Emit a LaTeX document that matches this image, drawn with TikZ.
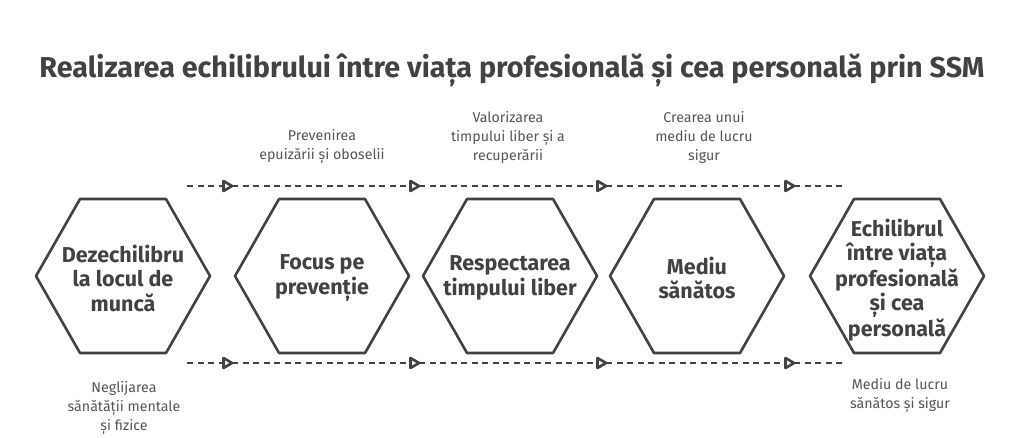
\documentclass[tikz,border=0pt]{standalone}
\usepackage{fontspec}
\setmainfont{Fira Sans}
\usetikzlibrary{calc}
\definecolor{ink}{HTML}{424242}
\definecolor{inklight}{HTML}{555555}
\begin{document}
\begin{tikzpicture}[x=1pt,y=-1pt,
  hexline/.style={draw=ink,line width=2.6pt,line join=round},
  hextext/.style={text=ink,font=\fontsize{21.5}{24.5}\selectfont\bfseries,align=center,inner sep=0pt},
  note/.style={text=inklight,font=\fontsize{14.2}{19}\selectfont,align=center,inner sep=0pt},
  flow/.style={draw=ink,line width=1.8pt,dash pattern=on 6pt off 4.5pt},
  tiphead/.style={draw=ink,fill=white,line width=2.6pt,line join=round}]
\useasboundingbox (0,0) rectangle (1024,437);
\fill[white] (0,0) rectangle (1024,437);

\node[text=ink,font=\bfseries,inner sep=0pt] (title) at (512,70)
  {\resizebox{945pt}{!}{Realizarea echilibrului între viața profesională și cea personală prin SSM}};

% hexagons
\foreach \cx in {123,322,510,697,897}{
  \draw[hexline] (\cx-87,276) -- (\cx-43,199) -- (\cx+43,199) -- (\cx+87,276)
     -- (\cx+43,353) -- (\cx-43,353) -- cycle;
}
\node[hextext] (h1) at (123,278) {Dezechilibru\\la locul de\\muncă};
\node[hextext] (h2) at (322,278) {Focus pe\\prevenție};
\node[hextext] (h3) at (510,278) {Respectarea\\timpului liber};
\node[hextext] (h4) at (697,278) {Mediu\\sănătos};
\node[hextext] (h5) at (897,280) {Echilibrul\\între viața\\profesională\\și cea\\personală};

% flow coordinates
\coordinate (ts) at (187,186);
\coordinate (t1) at (232,186);
\coordinate (t2) at (419,186);
\coordinate (t3) at (606,186);
\coordinate (t4) at (794,186);
\coordinate (te) at (845,186);
\coordinate (bs) at (187,363);
\coordinate (b1) at (232,363);
\coordinate (b2) at (419,363);
\coordinate (b3) at (606,363);
\coordinate (b4) at (794,363);
\coordinate (be) at (845,363);

% connectors
\draw[flow] (ts) -- (t1);
\draw[flow] (t1) -- (t2);
\draw[flow] (t2) -- (t3);
\draw[flow] (t3) -- (t4);
\draw[flow] (t4) -- (te);
\draw[flow] (bs) -- (b1);
\draw[flow] (b1) -- (b2);
\draw[flow] (b2) -- (b3);
\draw[flow] (b3) -- (b4);
\draw[flow] (b4) -- (be);

% arrow heads
\foreach \p in {t1,t2,t3,t4,b1,b2,b3,b4}{
  \draw[tiphead] ($(\p)+(-8.5,-5)$) -- (\p) -- ($(\p)+(-8.5,5)$) -- cycle;
}

% notes
\node[note] (n2) at (322,147) {Prevenirea\\epuizării și oboselii};
\node[note] (n3) at (508,137) {Valorizarea\\timpului liber și a\\recuperării};
\node[note] (n4) at (704,137) {Crearea unui\\mediu de lucru\\sigur};
\node[note] (n1) at (124,408) {Neglijarea\\sănătății mentale\\și fizice};
\node[note] (n5) at (900,396) {Mediu de lucru\\sănătos și sigur};
\end{tikzpicture}
\end{document}
